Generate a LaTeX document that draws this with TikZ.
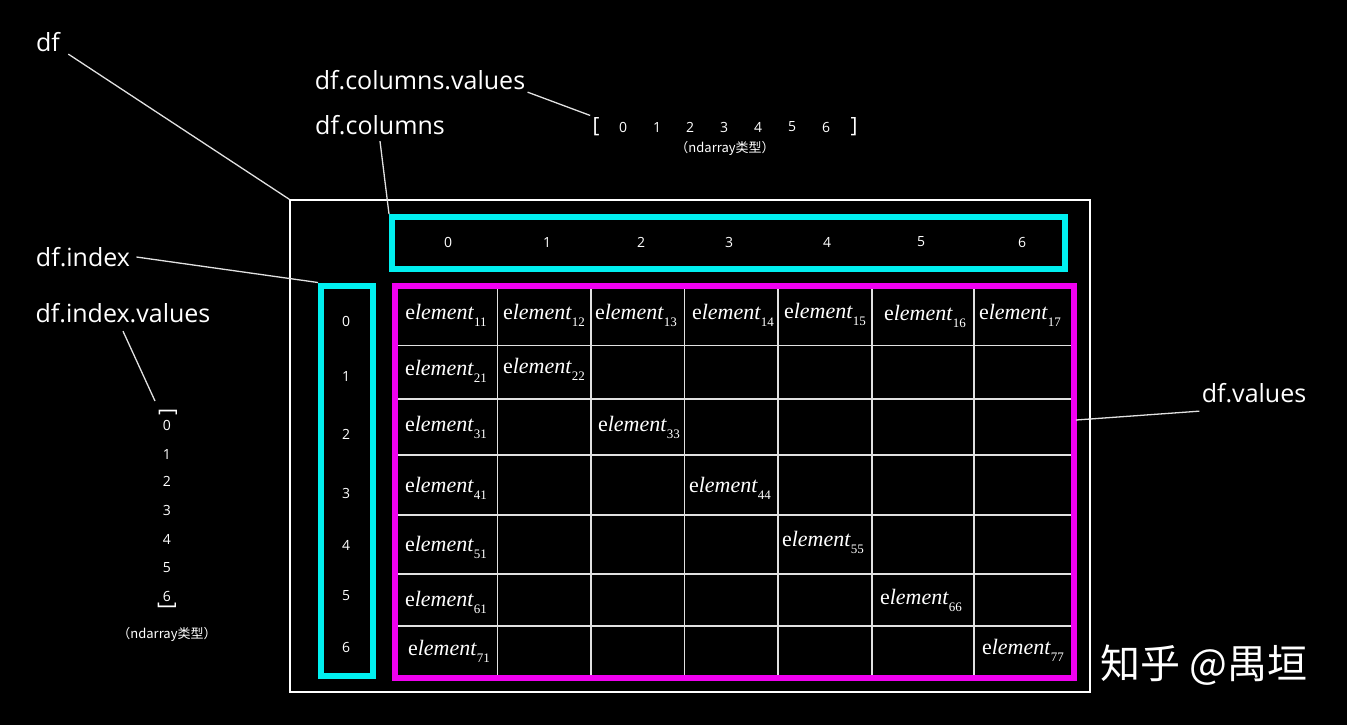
\documentclass[tikz,border=0pt]{standalone}
\usepackage{fontspec}
\setmainfont{Liberation Serif}
\newfontfamily\lab{Open Sans}
\newfontfamily\cjk{Noto Sans CJK SC}
\usetikzlibrary{positioning}
\definecolor{cy}{RGB}{0,240,240}
\definecolor{mg}{RGB}{240,0,240}
\definecolor{ln}{RGB}{225,225,225}
\newcommand{\elem}[1]{e\textit{lement}\raisebox{-0.7ex}{\fontsize{6.5}{7}\selectfont#1}}
\begin{document}
\begin{tikzpicture}[x=0.5pt,y=-0.5pt,
  lbl/.style={text=white,font=\lab\fontsize{12.5}{14}\selectfont,inner sep=1pt},
  num/.style={text=white,font=\lab\fontsize{7}{8}\selectfont,inner sep=1pt},
  brk/.style={text=white,font=\lab\fontsize{10.5}{12}\selectfont,inner sep=1pt},
  nd/.style={text=white,font=\cjk\fontsize{6.5}{7}\selectfont,inner sep=1pt},
  el/.style={text=white,font=\fontsize{11}{12}\selectfont,inner sep=0pt},
  cybox/.style={draw=cy,line width=3pt,inner sep=0pt},
  mgbox/.style={draw=mg,line width=3pt,inner sep=0pt},
  grid/.style={draw=ln,line width=0.65pt},
  conn/.style={draw=ln,line width=0.65pt}]
\fill[black] (0,0) rectangle (1347,725);
\useasboundingbox (0,0) rectangle (1347,725);
% frame of df
\node[draw=white,line width=0.75pt,minimum width=400pt,minimum height=246pt,inner sep=0pt] (frame) at (690,446) {};
% cells of df.values
\foreach \x in {497.5,591,684.5,778,872,974} \draw[grid] (\x,286) -- (\x,678);
\foreach \y in {345.5,399,455,515,574,626} \draw[grid] (395,\y) -- (1073.5,\y);
\node[cybox,minimum width=336.5pt,minimum height=26pt] (cols) at (728.5,243) {};
\node[cybox,minimum width=26pt,minimum height=195pt] (idx) at (347,480.5) {};
\node[mgbox,minimum width=339.25pt,minimum height=196pt] (vals) at (734.25,482) {};
\foreach \x [count=\i from 0] in {448,547,641,729,827,921,1022} \node[num] (c\i) at (\x,242) {\i};
\foreach \y [count=\i from 0] in {321,376,434,493,545,596,647} \node[num] (r\i) at (346,\y) {\i};
\foreach \x/\y/\n in {446/315/11,544/315/12,636/315/13,733/315/14,825/314/15,925/316/16,1020/315/17,
  446/371/21,544/369/22,446/427/31,639/427/33,446/488/41,730/488/44,446/547/51,823/542/55,
  446/602/61,921/600/66,449/651/71,1023/650/77}
  \node[el] (e\n) at (\x,\y) {\elem{\n}};
% df.columns.values
\node[brk] (hlb) at (596,127) {[};
\foreach \x [count=\i from 0] in {623,657,690,724,758,792,826} \node[num] (h\i) at (\x,127) {\i};
\node[brk] (hrb) at (854,127) {]};
\node[nd] (hnd) at (725,148) {（ndarray类型）};
% df.index.values
\node[brk,rotate=-90] (vlb) at (168,412) {[};
\foreach \y [count=\i from 0] in {425,454,481,510,539,568,596} \node[num] (v\i) at (167,\y) {\i};
\node[brk,rotate=-90] (vrb) at (167,606) {]};
\node[nd] (vnd) at (167,634) {（ndarray类型）};
\coordinate (vtip) at (155,401);
\coordinate (valtip) at (1076,420);
% labels
\node[lbl] (df) at (48,42) {df};
\node[lbl] (dfcv) at (420,80) {df.columns.values};
\node[lbl] (dfc) at (380,125) {df.columns};
\node[lbl] (dfi) at (83,257) {df.index};
\node[lbl] (dfiv) at (123,313) {df.index.values};
\node[lbl] (dfv) at (1254,393) {df.values};
\node[text=white,font=\cjk\fontsize{20}{22}\selectfont] (wm) at (1204,665) {知乎 @禺垣};
\draw[conn] ([xshift=3pt]df.south east) -- (frame.north west);
\draw[conn] (dfcv.south east) -- (hlb.north west);
\draw[conn] ([yshift=-2pt]dfc.south) -- (cols.north west);
\draw[conn] ([xshift=2pt]dfi.east) -- (idx.north west);
\draw[conn] ([yshift=-3pt]dfiv.south) -- (vtip);
\draw[conn] ([yshift=-3pt]dfv.south west) -- (valtip);
\end{tikzpicture}
\end{document}
